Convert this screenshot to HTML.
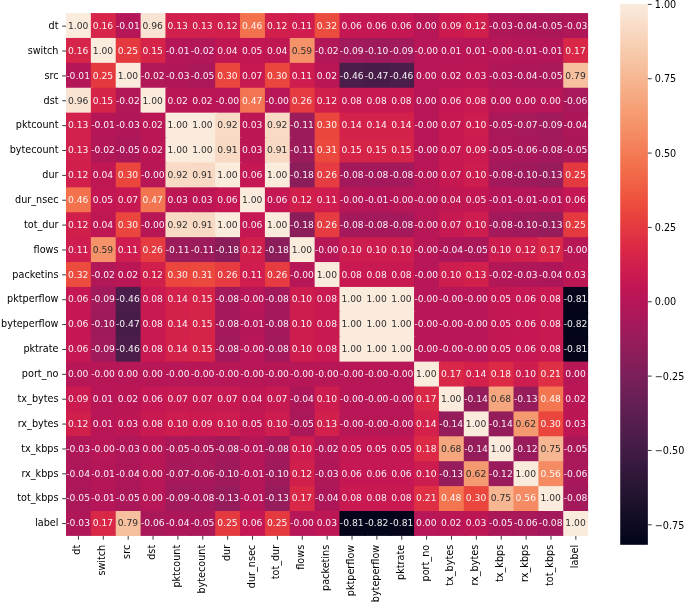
<!DOCTYPE html>
<html lang="en">
<head>
<meta charset="utf-8">
<title>Correlation heatmap</title>
<style>
html,body{margin:0;padding:0;background:#ffffff;overflow:hidden;}
svg{display:block;filter:blur(0.3px);}
text{font-family:"DejaVu Sans","Liberation Sans",sans-serif;font-size:9.9px;}
.a{font-size:9.4px;}
.a{text-anchor:middle;}
.w{fill:#ffffff;fill-opacity:0.93;}
.d{fill:#2f2f2f;}
.yl{text-anchor:end;fill:#000;}
.xl{text-anchor:end;fill:#000;}
.cl{text-anchor:start;fill:#000;}
.tk{stroke:#000;stroke-width:0.8;fill:none;}
</style>
</head>
<body>
<svg width="685" height="603" viewBox="0 0 685 603">
<rect x="0" y="0" width="685" height="603" fill="#ffffff"/>
<defs><linearGradient id="cb" x1="0" y1="1" x2="0" y2="0">
<stop offset="0.00195" stop-color="#03051a"/><stop offset="0.00586" stop-color="#04051a"/><stop offset="0.00977" stop-color="#05061b"/><stop offset="0.01367" stop-color="#06071c"/><stop offset="0.01758" stop-color="#07071d"/><stop offset="0.02148" stop-color="#08081e"/><stop offset="0.02539" stop-color="#0a091f"/><stop offset="0.02930" stop-color="#0b0920"/><stop offset="0.03320" stop-color="#0d0a21"/><stop offset="0.03711" stop-color="#0e0b22"/><stop offset="0.04102" stop-color="#100b23"/><stop offset="0.04492" stop-color="#110c24"/><stop offset="0.04883" stop-color="#130d25"/><stop offset="0.05273" stop-color="#140e26"/><stop offset="0.05664" stop-color="#160e27"/><stop offset="0.06055" stop-color="#170f28"/><stop offset="0.06445" stop-color="#180f29"/><stop offset="0.06836" stop-color="#1a102a"/><stop offset="0.07227" stop-color="#1b112b"/><stop offset="0.07617" stop-color="#1d112c"/><stop offset="0.08008" stop-color="#1e122d"/><stop offset="0.08398" stop-color="#20122e"/><stop offset="0.08789" stop-color="#211330"/><stop offset="0.09180" stop-color="#221331"/><stop offset="0.09570" stop-color="#241432"/><stop offset="0.09961" stop-color="#251433"/><stop offset="0.10352" stop-color="#271534"/><stop offset="0.10742" stop-color="#281535"/><stop offset="0.11133" stop-color="#2a1636"/><stop offset="0.11523" stop-color="#2b1637"/><stop offset="0.11914" stop-color="#2d1738"/><stop offset="0.12305" stop-color="#2e1739"/><stop offset="0.12695" stop-color="#30173a"/><stop offset="0.13086" stop-color="#31183b"/><stop offset="0.13477" stop-color="#33183c"/><stop offset="0.13867" stop-color="#34193d"/><stop offset="0.14258" stop-color="#35193e"/><stop offset="0.14648" stop-color="#37193f"/><stop offset="0.15039" stop-color="#381a40"/><stop offset="0.15430" stop-color="#3a1a41"/><stop offset="0.15820" stop-color="#3c1a42"/><stop offset="0.16211" stop-color="#3d1a42"/><stop offset="0.16602" stop-color="#3f1b43"/><stop offset="0.16992" stop-color="#401b44"/><stop offset="0.17383" stop-color="#421b45"/><stop offset="0.17773" stop-color="#431c46"/><stop offset="0.18164" stop-color="#451c47"/><stop offset="0.18555" stop-color="#461c48"/><stop offset="0.18945" stop-color="#481c48"/><stop offset="0.19336" stop-color="#491d49"/><stop offset="0.19727" stop-color="#4b1d4a"/><stop offset="0.20117" stop-color="#4c1d4b"/><stop offset="0.20508" stop-color="#4e1d4b"/><stop offset="0.20898" stop-color="#501d4c"/><stop offset="0.21289" stop-color="#511e4d"/><stop offset="0.21680" stop-color="#531e4d"/><stop offset="0.22070" stop-color="#541e4e"/><stop offset="0.22461" stop-color="#561e4f"/><stop offset="0.22852" stop-color="#581e4f"/><stop offset="0.23242" stop-color="#591e50"/><stop offset="0.23633" stop-color="#5b1e51"/><stop offset="0.24023" stop-color="#5c1e51"/><stop offset="0.24414" stop-color="#5e1f52"/><stop offset="0.24805" stop-color="#601f52"/><stop offset="0.25195" stop-color="#611f53"/><stop offset="0.25586" stop-color="#631f53"/><stop offset="0.25977" stop-color="#641f54"/><stop offset="0.26367" stop-color="#661f54"/><stop offset="0.26758" stop-color="#681f55"/><stop offset="0.27148" stop-color="#691f55"/><stop offset="0.27539" stop-color="#6b1f56"/><stop offset="0.27930" stop-color="#6d1f56"/><stop offset="0.28320" stop-color="#6e1f57"/><stop offset="0.28711" stop-color="#701f57"/><stop offset="0.29102" stop-color="#711f57"/><stop offset="0.29492" stop-color="#731f58"/><stop offset="0.29883" stop-color="#751f58"/><stop offset="0.30273" stop-color="#761f58"/><stop offset="0.30664" stop-color="#781f59"/><stop offset="0.31055" stop-color="#7a1f59"/><stop offset="0.31445" stop-color="#7b1f59"/><stop offset="0.31836" stop-color="#7d1f5a"/><stop offset="0.32227" stop-color="#7f1e5a"/><stop offset="0.32617" stop-color="#811e5a"/><stop offset="0.33008" stop-color="#821e5a"/><stop offset="0.33398" stop-color="#841e5a"/><stop offset="0.33789" stop-color="#861e5b"/><stop offset="0.34180" stop-color="#871e5b"/><stop offset="0.34570" stop-color="#891e5b"/><stop offset="0.34961" stop-color="#8b1d5b"/><stop offset="0.35352" stop-color="#8c1d5b"/><stop offset="0.35742" stop-color="#8e1d5b"/><stop offset="0.36133" stop-color="#901d5b"/><stop offset="0.36523" stop-color="#921c5b"/><stop offset="0.36914" stop-color="#931c5b"/><stop offset="0.37305" stop-color="#951c5b"/><stop offset="0.37695" stop-color="#971c5b"/><stop offset="0.38086" stop-color="#981b5b"/><stop offset="0.38477" stop-color="#9a1b5b"/><stop offset="0.38867" stop-color="#9c1b5b"/><stop offset="0.39258" stop-color="#9e1a5b"/><stop offset="0.39648" stop-color="#9f1a5b"/><stop offset="0.40039" stop-color="#a11a5b"/><stop offset="0.40430" stop-color="#a3195b"/><stop offset="0.40820" stop-color="#a4195b"/><stop offset="0.41211" stop-color="#a6195a"/><stop offset="0.41602" stop-color="#a8185a"/><stop offset="0.41992" stop-color="#aa185a"/><stop offset="0.42383" stop-color="#ab185a"/><stop offset="0.42773" stop-color="#ad1759"/><stop offset="0.43164" stop-color="#af1759"/><stop offset="0.43555" stop-color="#b01759"/><stop offset="0.43945" stop-color="#b21758"/><stop offset="0.44336" stop-color="#b41658"/><stop offset="0.44727" stop-color="#b51657"/><stop offset="0.45117" stop-color="#b71657"/><stop offset="0.45508" stop-color="#b91657"/><stop offset="0.45898" stop-color="#ba1656"/><stop offset="0.46289" stop-color="#bc1656"/><stop offset="0.46680" stop-color="#bd1655"/><stop offset="0.47070" stop-color="#bf1654"/><stop offset="0.47461" stop-color="#c11754"/><stop offset="0.47852" stop-color="#c21753"/><stop offset="0.48242" stop-color="#c41753"/><stop offset="0.48633" stop-color="#c51852"/><stop offset="0.49023" stop-color="#c71951"/><stop offset="0.49414" stop-color="#c81951"/><stop offset="0.49805" stop-color="#ca1a50"/><stop offset="0.50195" stop-color="#cb1b4f"/><stop offset="0.50586" stop-color="#cd1c4e"/><stop offset="0.50977" stop-color="#ce1d4e"/><stop offset="0.51367" stop-color="#cf1e4d"/><stop offset="0.51758" stop-color="#d11f4c"/><stop offset="0.52148" stop-color="#d2204c"/><stop offset="0.52539" stop-color="#d3214b"/><stop offset="0.52930" stop-color="#d5224a"/><stop offset="0.53320" stop-color="#d62449"/><stop offset="0.53711" stop-color="#d72549"/><stop offset="0.54102" stop-color="#d82748"/><stop offset="0.54492" stop-color="#d92847"/><stop offset="0.54883" stop-color="#db2946"/><stop offset="0.55273" stop-color="#dc2b46"/><stop offset="0.55664" stop-color="#dd2c45"/><stop offset="0.56055" stop-color="#de2e44"/><stop offset="0.56445" stop-color="#df2f44"/><stop offset="0.56836" stop-color="#e03143"/><stop offset="0.57227" stop-color="#e13342"/><stop offset="0.57617" stop-color="#e23442"/><stop offset="0.58008" stop-color="#e33641"/><stop offset="0.58398" stop-color="#e43841"/><stop offset="0.58789" stop-color="#e53940"/><stop offset="0.59180" stop-color="#e63b40"/><stop offset="0.59570" stop-color="#e73d3f"/><stop offset="0.59961" stop-color="#e83f3f"/><stop offset="0.60352" stop-color="#e8403e"/><stop offset="0.60742" stop-color="#e9423e"/><stop offset="0.61133" stop-color="#ea443e"/><stop offset="0.61523" stop-color="#eb463e"/><stop offset="0.61914" stop-color="#eb483e"/><stop offset="0.62305" stop-color="#ec4a3e"/><stop offset="0.62695" stop-color="#ec4c3e"/><stop offset="0.63086" stop-color="#ed4e3e"/><stop offset="0.63477" stop-color="#ed503e"/><stop offset="0.63867" stop-color="#ee523f"/><stop offset="0.64258" stop-color="#ee543f"/><stop offset="0.64648" stop-color="#ef5640"/><stop offset="0.65039" stop-color="#ef5840"/><stop offset="0.65430" stop-color="#ef5a41"/><stop offset="0.65820" stop-color="#f05c42"/><stop offset="0.66211" stop-color="#f05e42"/><stop offset="0.66602" stop-color="#f06043"/><stop offset="0.66992" stop-color="#f16244"/><stop offset="0.67383" stop-color="#f16445"/><stop offset="0.67773" stop-color="#f16646"/><stop offset="0.68164" stop-color="#f26747"/><stop offset="0.68555" stop-color="#f26948"/><stop offset="0.68945" stop-color="#f26b49"/><stop offset="0.69336" stop-color="#f26d4b"/><stop offset="0.69727" stop-color="#f26f4c"/><stop offset="0.70117" stop-color="#f3714d"/><stop offset="0.70508" stop-color="#f3734e"/><stop offset="0.70898" stop-color="#f37450"/><stop offset="0.71289" stop-color="#f37651"/><stop offset="0.71680" stop-color="#f37852"/><stop offset="0.72070" stop-color="#f47a54"/><stop offset="0.72461" stop-color="#f47c55"/><stop offset="0.72852" stop-color="#f47d57"/><stop offset="0.73242" stop-color="#f47f58"/><stop offset="0.73633" stop-color="#f4815a"/><stop offset="0.74023" stop-color="#f4835b"/><stop offset="0.74414" stop-color="#f4845d"/><stop offset="0.74805" stop-color="#f4865e"/><stop offset="0.75195" stop-color="#f58860"/><stop offset="0.75586" stop-color="#f58a61"/><stop offset="0.75977" stop-color="#f58b63"/><stop offset="0.76367" stop-color="#f58d64"/><stop offset="0.76758" stop-color="#f58f66"/><stop offset="0.77148" stop-color="#f59067"/><stop offset="0.77539" stop-color="#f59269"/><stop offset="0.77930" stop-color="#f5946b"/><stop offset="0.78320" stop-color="#f5966c"/><stop offset="0.78711" stop-color="#f5976e"/><stop offset="0.79102" stop-color="#f59970"/><stop offset="0.79492" stop-color="#f69b71"/><stop offset="0.79883" stop-color="#f69c73"/><stop offset="0.80273" stop-color="#f69e75"/><stop offset="0.80664" stop-color="#f6a077"/><stop offset="0.81055" stop-color="#f6a178"/><stop offset="0.81445" stop-color="#f6a37a"/><stop offset="0.81836" stop-color="#f6a47c"/><stop offset="0.82227" stop-color="#f6a67e"/><stop offset="0.82617" stop-color="#f6a880"/><stop offset="0.83008" stop-color="#f6a981"/><stop offset="0.83398" stop-color="#f6ab83"/><stop offset="0.83789" stop-color="#f6ad85"/><stop offset="0.84180" stop-color="#f6ae87"/><stop offset="0.84570" stop-color="#f6b089"/><stop offset="0.84961" stop-color="#f6b18b"/><stop offset="0.85352" stop-color="#f6b38d"/><stop offset="0.85742" stop-color="#f6b48f"/><stop offset="0.86133" stop-color="#f6b691"/><stop offset="0.86523" stop-color="#f6b893"/><stop offset="0.86914" stop-color="#f6b995"/><stop offset="0.87305" stop-color="#f6bb97"/><stop offset="0.87695" stop-color="#f6bc99"/><stop offset="0.88086" stop-color="#f6be9b"/><stop offset="0.88477" stop-color="#f6bf9d"/><stop offset="0.88867" stop-color="#f6c19f"/><stop offset="0.89258" stop-color="#f7c2a2"/><stop offset="0.89648" stop-color="#f7c4a4"/><stop offset="0.90039" stop-color="#f7c6a6"/><stop offset="0.90430" stop-color="#f7c7a8"/><stop offset="0.90820" stop-color="#f7c9aa"/><stop offset="0.91211" stop-color="#f7caac"/><stop offset="0.91602" stop-color="#f7ccaf"/><stop offset="0.91992" stop-color="#f7cdb1"/><stop offset="0.92383" stop-color="#f7cfb3"/><stop offset="0.92773" stop-color="#f7d0b5"/><stop offset="0.93164" stop-color="#f8d1b8"/><stop offset="0.93555" stop-color="#f8d3ba"/><stop offset="0.93945" stop-color="#f8d4bc"/><stop offset="0.94336" stop-color="#f8d6be"/><stop offset="0.94727" stop-color="#f8d7c0"/><stop offset="0.95117" stop-color="#f8d9c3"/><stop offset="0.95508" stop-color="#f8dac5"/><stop offset="0.95898" stop-color="#f8dcc7"/><stop offset="0.96289" stop-color="#f9ddc9"/><stop offset="0.96680" stop-color="#f9dfcb"/><stop offset="0.97070" stop-color="#f9e0cd"/><stop offset="0.97461" stop-color="#f9e2d0"/><stop offset="0.97852" stop-color="#f9e3d2"/><stop offset="0.98242" stop-color="#f9e5d4"/><stop offset="0.98633" stop-color="#fae6d6"/><stop offset="0.99023" stop-color="#fae8d8"/><stop offset="0.99414" stop-color="#fae9da"/><stop offset="0.99805" stop-color="#faebdd"/>
</linearGradient></defs>
<g transform="translate(-39.300,-80.266) scale(0.975)">
<g>
<rect x="108" y="95.73" width="27.1" height="27.14" fill="#faebdd"/><rect x="133.5" y="95.73" width="27.1" height="27.14" fill="#d72549"/><rect x="159" y="95.73" width="27.1" height="27.14" fill="#b41658"/><rect x="184.5" y="95.73" width="27.1" height="27.14" fill="#f9e3d2"/><rect x="210" y="95.73" width="52.6" height="27.14" fill="#d2204c"/><rect x="261" y="95.73" width="27.1" height="27.14" fill="#d11f4c"/><rect x="286.5" y="95.73" width="27.1" height="27.14" fill="#f3714d"/><rect x="312" y="95.73" width="27.1" height="27.14" fill="#d11f4c"/><rect x="337.49" y="95.73" width="27.1" height="27.14" fill="#ce1d4e"/><rect x="362.99" y="95.73" width="27.1" height="27.14" fill="#ec4c3e"/><rect x="388.49" y="95.73" width="78.1" height="27.14" fill="#c41753"/><rect x="464.99" y="95.73" width="27.1" height="27.14" fill="#b71657"/><rect x="490.49" y="95.73" width="27.1" height="27.14" fill="#ca1a50"/><rect x="515.99" y="95.73" width="27.1" height="27.14" fill="#d11f4c"/><rect x="541.49" y="95.73" width="27.1" height="27.14" fill="#af1759"/><rect x="566.99" y="95.73" width="27.1" height="27.14" fill="#ad1759"/><rect x="592.49" y="95.73" width="27.1" height="27.14" fill="#ab185a"/><rect x="617.99" y="95.73" width="25.5" height="27.14" fill="#af1759"/>
<rect x="108" y="121.26" width="27.1" height="27.14" fill="#d72549"/><rect x="133.5" y="121.26" width="27.1" height="27.14" fill="#faebdd"/><rect x="159" y="121.26" width="27.1" height="27.14" fill="#e53940"/><rect x="184.5" y="121.26" width="27.1" height="27.14" fill="#d62449"/><rect x="210" y="121.26" width="27.1" height="27.14" fill="#b41658"/><rect x="235.5" y="121.26" width="27.1" height="27.14" fill="#b21758"/><rect x="261" y="121.26" width="27.1" height="27.14" fill="#bf1654"/><rect x="286.5" y="121.26" width="27.1" height="27.14" fill="#c21753"/><rect x="312" y="121.26" width="27.1" height="27.14" fill="#bf1654"/><rect x="337.49" y="121.26" width="27.1" height="27.14" fill="#f59269"/><rect x="362.99" y="121.26" width="27.1" height="27.14" fill="#b21758"/><rect x="388.49" y="121.26" width="27.1" height="27.14" fill="#a11a5b"/><rect x="413.99" y="121.26" width="27.1" height="27.14" fill="#9f1a5b"/><rect x="439.49" y="121.26" width="27.1" height="27.14" fill="#a11a5b"/><rect x="464.99" y="121.26" width="27.1" height="27.14" fill="#b71657"/><rect x="490.49" y="121.26" width="52.6" height="27.14" fill="#b91657"/><rect x="541.49" y="121.26" width="27.1" height="27.14" fill="#b71657"/><rect x="566.99" y="121.26" width="52.6" height="27.14" fill="#b41658"/><rect x="617.99" y="121.26" width="25.5" height="27.14" fill="#d92847"/>
<rect x="108" y="146.8" width="27.1" height="27.14" fill="#b41658"/><rect x="133.5" y="146.8" width="27.1" height="27.14" fill="#e53940"/><rect x="159" y="146.8" width="27.1" height="27.14" fill="#faebdd"/><rect x="184.5" y="146.8" width="27.1" height="27.14" fill="#b21758"/><rect x="210" y="146.8" width="27.1" height="27.14" fill="#af1759"/><rect x="235.5" y="146.8" width="27.1" height="27.14" fill="#ab185a"/><rect x="261" y="146.8" width="27.1" height="27.14" fill="#eb463e"/><rect x="286.5" y="146.8" width="27.1" height="27.14" fill="#c71951"/><rect x="312" y="146.8" width="27.1" height="27.14" fill="#eb463e"/><rect x="337.49" y="146.8" width="27.1" height="27.14" fill="#ce1d4e"/><rect x="362.99" y="146.8" width="27.1" height="27.14" fill="#ba1656"/><rect x="388.49" y="146.8" width="27.1" height="27.14" fill="#4b1d4a"/><rect x="413.99" y="146.8" width="27.1" height="27.14" fill="#481c48"/><rect x="439.49" y="146.8" width="27.1" height="27.14" fill="#4b1d4a"/><rect x="464.99" y="146.8" width="27.1" height="27.14" fill="#b71657"/><rect x="490.49" y="146.8" width="27.1" height="27.14" fill="#ba1656"/><rect x="515.99" y="146.8" width="27.1" height="27.14" fill="#bd1655"/><rect x="541.49" y="146.8" width="27.1" height="27.14" fill="#af1759"/><rect x="566.99" y="146.8" width="27.1" height="27.14" fill="#ad1759"/><rect x="592.49" y="146.8" width="27.1" height="27.14" fill="#ab185a"/><rect x="617.99" y="146.8" width="25.5" height="27.14" fill="#f6bf9d"/>
<rect x="108" y="172.33" width="27.1" height="27.14" fill="#f9e3d2"/><rect x="133.5" y="172.33" width="27.1" height="27.14" fill="#d62449"/><rect x="159" y="172.33" width="27.1" height="27.14" fill="#b21758"/><rect x="184.5" y="172.33" width="27.1" height="27.14" fill="#faebdd"/><rect x="210" y="172.33" width="52.6" height="27.14" fill="#ba1656"/><rect x="261" y="172.33" width="27.1" height="27.14" fill="#b71657"/><rect x="286.5" y="172.33" width="27.1" height="27.14" fill="#f37450"/><rect x="312" y="172.33" width="27.1" height="27.14" fill="#b71657"/><rect x="337.49" y="172.33" width="27.1" height="27.14" fill="#e63b40"/><rect x="362.99" y="172.33" width="27.1" height="27.14" fill="#d11f4c"/><rect x="388.49" y="172.33" width="78.1" height="27.14" fill="#c81951"/><rect x="464.99" y="172.33" width="27.1" height="27.14" fill="#b71657"/><rect x="490.49" y="172.33" width="27.1" height="27.14" fill="#c41753"/><rect x="515.99" y="172.33" width="27.1" height="27.14" fill="#c81951"/><rect x="541.49" y="172.33" width="78.1" height="27.14" fill="#b71657"/><rect x="617.99" y="172.33" width="25.5" height="27.14" fill="#a8185a"/>
<rect x="108" y="197.87" width="27.1" height="27.14" fill="#d2204c"/><rect x="133.5" y="197.87" width="27.1" height="27.14" fill="#b41658"/><rect x="159" y="197.87" width="27.1" height="27.14" fill="#af1759"/><rect x="184.5" y="197.87" width="27.1" height="27.14" fill="#ba1656"/><rect x="210" y="197.87" width="52.6" height="27.14" fill="#faebdd"/><rect x="261" y="197.87" width="27.1" height="27.14" fill="#f8dac5"/><rect x="286.5" y="197.87" width="27.1" height="27.14" fill="#bd1655"/><rect x="312" y="197.87" width="27.1" height="27.14" fill="#f8dac5"/><rect x="337.49" y="197.87" width="27.1" height="27.14" fill="#9c1b5b"/><rect x="362.99" y="197.87" width="27.1" height="27.14" fill="#eb463e"/><rect x="388.49" y="197.87" width="78.1" height="27.14" fill="#d3214b"/><rect x="464.99" y="197.87" width="27.1" height="27.14" fill="#b71657"/><rect x="490.49" y="197.87" width="27.1" height="27.14" fill="#c71951"/><rect x="515.99" y="197.87" width="27.1" height="27.14" fill="#cd1c4e"/><rect x="541.49" y="197.87" width="27.1" height="27.14" fill="#ab185a"/><rect x="566.99" y="197.87" width="27.1" height="27.14" fill="#a6195a"/><rect x="592.49" y="197.87" width="27.1" height="27.14" fill="#a11a5b"/><rect x="617.99" y="197.87" width="25.5" height="27.14" fill="#ad1759"/>
<rect x="108" y="223.4" width="27.1" height="27.14" fill="#d2204c"/><rect x="133.5" y="223.4" width="27.1" height="27.14" fill="#b21758"/><rect x="159" y="223.4" width="27.1" height="27.14" fill="#ab185a"/><rect x="184.5" y="223.4" width="27.1" height="27.14" fill="#ba1656"/><rect x="210" y="223.4" width="52.6" height="27.14" fill="#faebdd"/><rect x="261" y="223.4" width="27.1" height="27.14" fill="#f8d9c3"/><rect x="286.5" y="223.4" width="27.1" height="27.14" fill="#bd1655"/><rect x="312" y="223.4" width="27.1" height="27.14" fill="#f8d9c3"/><rect x="337.49" y="223.4" width="27.1" height="27.14" fill="#9c1b5b"/><rect x="362.99" y="223.4" width="27.1" height="27.14" fill="#eb483e"/><rect x="388.49" y="223.4" width="78.1" height="27.14" fill="#d62449"/><rect x="464.99" y="223.4" width="27.1" height="27.14" fill="#b71657"/><rect x="490.49" y="223.4" width="27.1" height="27.14" fill="#c71951"/><rect x="515.99" y="223.4" width="27.1" height="27.14" fill="#ca1a50"/><rect x="541.49" y="223.4" width="27.1" height="27.14" fill="#ab185a"/><rect x="566.99" y="223.4" width="27.1" height="27.14" fill="#a8185a"/><rect x="592.49" y="223.4" width="27.1" height="27.14" fill="#a3195b"/><rect x="617.99" y="223.4" width="25.5" height="27.14" fill="#ab185a"/>
<rect x="108" y="248.94" width="27.1" height="27.14" fill="#d11f4c"/><rect x="133.5" y="248.94" width="27.1" height="27.14" fill="#bf1654"/><rect x="159" y="248.94" width="27.1" height="27.14" fill="#eb463e"/><rect x="184.5" y="248.94" width="27.1" height="27.14" fill="#b71657"/><rect x="210" y="248.94" width="27.1" height="27.14" fill="#f8dac5"/><rect x="235.5" y="248.94" width="27.1" height="27.14" fill="#f8d9c3"/><rect x="261" y="248.94" width="27.1" height="27.14" fill="#faebdd"/><rect x="286.5" y="248.94" width="27.1" height="27.14" fill="#c41753"/><rect x="312" y="248.94" width="27.1" height="27.14" fill="#faebdd"/><rect x="337.49" y="248.94" width="27.1" height="27.14" fill="#8b1d5b"/><rect x="362.99" y="248.94" width="27.1" height="27.14" fill="#e63b40"/><rect x="388.49" y="248.94" width="78.1" height="27.14" fill="#a3195b"/><rect x="464.99" y="248.94" width="27.1" height="27.14" fill="#b71657"/><rect x="490.49" y="248.94" width="27.1" height="27.14" fill="#c71951"/><rect x="515.99" y="248.94" width="27.1" height="27.14" fill="#cd1c4e"/><rect x="541.49" y="248.94" width="27.1" height="27.14" fill="#a3195b"/><rect x="566.99" y="248.94" width="27.1" height="27.14" fill="#9f1a5b"/><rect x="592.49" y="248.94" width="27.1" height="27.14" fill="#971c5b"/><rect x="617.99" y="248.94" width="25.5" height="27.14" fill="#e53940"/>
<rect x="108" y="274.47" width="27.1" height="27.14" fill="#f3714d"/><rect x="133.5" y="274.47" width="27.1" height="27.14" fill="#c21753"/><rect x="159" y="274.47" width="27.1" height="27.14" fill="#c71951"/><rect x="184.5" y="274.47" width="27.1" height="27.14" fill="#f37450"/><rect x="210" y="274.47" width="52.6" height="27.14" fill="#bd1655"/><rect x="261" y="274.47" width="27.1" height="27.14" fill="#c41753"/><rect x="286.5" y="274.47" width="27.1" height="27.14" fill="#faebdd"/><rect x="312" y="274.47" width="27.1" height="27.14" fill="#c41753"/><rect x="337.49" y="274.47" width="27.1" height="27.14" fill="#d11f4c"/><rect x="362.99" y="274.47" width="27.1" height="27.14" fill="#ce1d4e"/><rect x="388.49" y="274.47" width="27.1" height="27.14" fill="#b71657"/><rect x="413.99" y="274.47" width="27.1" height="27.14" fill="#b41658"/><rect x="439.49" y="274.47" width="52.6" height="27.14" fill="#b71657"/><rect x="490.49" y="274.47" width="27.1" height="27.14" fill="#bf1654"/><rect x="515.99" y="274.47" width="27.1" height="27.14" fill="#c21753"/><rect x="541.49" y="274.47" width="78.1" height="27.14" fill="#b41658"/><rect x="617.99" y="274.47" width="25.5" height="27.14" fill="#c41753"/>
<rect x="108" y="300.01" width="27.1" height="27.14" fill="#d11f4c"/><rect x="133.5" y="300.01" width="27.1" height="27.14" fill="#bf1654"/><rect x="159" y="300.01" width="27.1" height="27.14" fill="#eb463e"/><rect x="184.5" y="300.01" width="27.1" height="27.14" fill="#b71657"/><rect x="210" y="300.01" width="27.1" height="27.14" fill="#f8dac5"/><rect x="235.5" y="300.01" width="27.1" height="27.14" fill="#f8d9c3"/><rect x="261" y="300.01" width="27.1" height="27.14" fill="#faebdd"/><rect x="286.5" y="300.01" width="27.1" height="27.14" fill="#c41753"/><rect x="312" y="300.01" width="27.1" height="27.14" fill="#faebdd"/><rect x="337.49" y="300.01" width="27.1" height="27.14" fill="#8b1d5b"/><rect x="362.99" y="300.01" width="27.1" height="27.14" fill="#e63b40"/><rect x="388.49" y="300.01" width="78.1" height="27.14" fill="#a3195b"/><rect x="464.99" y="300.01" width="27.1" height="27.14" fill="#b71657"/><rect x="490.49" y="300.01" width="27.1" height="27.14" fill="#c71951"/><rect x="515.99" y="300.01" width="27.1" height="27.14" fill="#cd1c4e"/><rect x="541.49" y="300.01" width="27.1" height="27.14" fill="#a3195b"/><rect x="566.99" y="300.01" width="27.1" height="27.14" fill="#9f1a5b"/><rect x="592.49" y="300.01" width="27.1" height="27.14" fill="#971c5b"/><rect x="617.99" y="300.01" width="25.5" height="27.14" fill="#e53940"/>
<rect x="108" y="325.54" width="27.1" height="27.14" fill="#ce1d4e"/><rect x="133.5" y="325.54" width="27.1" height="27.14" fill="#f59269"/><rect x="159" y="325.54" width="27.1" height="27.14" fill="#ce1d4e"/><rect x="184.5" y="325.54" width="27.1" height="27.14" fill="#e63b40"/><rect x="210" y="325.54" width="52.6" height="27.14" fill="#9c1b5b"/><rect x="261" y="325.54" width="27.1" height="27.14" fill="#8b1d5b"/><rect x="286.5" y="325.54" width="27.1" height="27.14" fill="#d11f4c"/><rect x="312" y="325.54" width="27.1" height="27.14" fill="#8b1d5b"/><rect x="337.49" y="325.54" width="27.1" height="27.14" fill="#faebdd"/><rect x="362.99" y="325.54" width="27.1" height="27.14" fill="#b71657"/><rect x="388.49" y="325.54" width="78.1" height="27.14" fill="#cd1c4e"/><rect x="464.99" y="325.54" width="27.1" height="27.14" fill="#b71657"/><rect x="490.49" y="325.54" width="27.1" height="27.14" fill="#ad1759"/><rect x="515.99" y="325.54" width="27.1" height="27.14" fill="#ab185a"/><rect x="541.49" y="325.54" width="27.1" height="27.14" fill="#cd1c4e"/><rect x="566.99" y="325.54" width="27.1" height="27.14" fill="#d11f4c"/><rect x="592.49" y="325.54" width="27.1" height="27.14" fill="#d92847"/><rect x="617.99" y="325.54" width="25.5" height="27.14" fill="#b71657"/>
<rect x="108" y="351.08" width="27.1" height="27.14" fill="#ec4c3e"/><rect x="133.5" y="351.08" width="27.1" height="27.14" fill="#b21758"/><rect x="159" y="351.08" width="27.1" height="27.14" fill="#ba1656"/><rect x="184.5" y="351.08" width="27.1" height="27.14" fill="#d11f4c"/><rect x="210" y="351.08" width="27.1" height="27.14" fill="#eb463e"/><rect x="235.5" y="351.08" width="27.1" height="27.14" fill="#eb483e"/><rect x="261" y="351.08" width="27.1" height="27.14" fill="#e63b40"/><rect x="286.5" y="351.08" width="27.1" height="27.14" fill="#ce1d4e"/><rect x="312" y="351.08" width="27.1" height="27.14" fill="#e63b40"/><rect x="337.49" y="351.08" width="27.1" height="27.14" fill="#b71657"/><rect x="362.99" y="351.08" width="27.1" height="27.14" fill="#faebdd"/><rect x="388.49" y="351.08" width="78.1" height="27.14" fill="#c81951"/><rect x="464.99" y="351.08" width="27.1" height="27.14" fill="#b71657"/><rect x="490.49" y="351.08" width="27.1" height="27.14" fill="#cd1c4e"/><rect x="515.99" y="351.08" width="27.1" height="27.14" fill="#d2204c"/><rect x="541.49" y="351.08" width="27.1" height="27.14" fill="#b21758"/><rect x="566.99" y="351.08" width="27.1" height="27.14" fill="#af1759"/><rect x="592.49" y="351.08" width="27.1" height="27.14" fill="#ad1759"/><rect x="617.99" y="351.08" width="25.5" height="27.14" fill="#bd1655"/>
<rect x="108" y="376.61" width="27.1" height="27.14" fill="#c41753"/><rect x="133.5" y="376.61" width="27.1" height="27.14" fill="#a11a5b"/><rect x="159" y="376.61" width="27.1" height="27.14" fill="#4b1d4a"/><rect x="184.5" y="376.61" width="27.1" height="27.14" fill="#c81951"/><rect x="210" y="376.61" width="27.1" height="27.14" fill="#d3214b"/><rect x="235.5" y="376.61" width="27.1" height="27.14" fill="#d62449"/><rect x="261" y="376.61" width="27.1" height="27.14" fill="#a3195b"/><rect x="286.5" y="376.61" width="27.1" height="27.14" fill="#b71657"/><rect x="312" y="376.61" width="27.1" height="27.14" fill="#a3195b"/><rect x="337.49" y="376.61" width="27.1" height="27.14" fill="#cd1c4e"/><rect x="362.99" y="376.61" width="27.1" height="27.14" fill="#c81951"/><rect x="388.49" y="376.61" width="78.1" height="27.14" fill="#faebdd"/><rect x="464.99" y="376.61" width="78.1" height="27.14" fill="#b71657"/><rect x="541.49" y="376.61" width="27.1" height="27.14" fill="#c21753"/><rect x="566.99" y="376.61" width="27.1" height="27.14" fill="#c41753"/><rect x="592.49" y="376.61" width="27.1" height="27.14" fill="#c81951"/><rect x="617.99" y="376.61" width="25.5" height="27.14" fill="#04051a"/>
<rect x="108" y="402.15" width="27.1" height="27.14" fill="#c41753"/><rect x="133.5" y="402.15" width="27.1" height="27.14" fill="#9f1a5b"/><rect x="159" y="402.15" width="27.1" height="27.14" fill="#481c48"/><rect x="184.5" y="402.15" width="27.1" height="27.14" fill="#c81951"/><rect x="210" y="402.15" width="27.1" height="27.14" fill="#d3214b"/><rect x="235.5" y="402.15" width="27.1" height="27.14" fill="#d62449"/><rect x="261" y="402.15" width="27.1" height="27.14" fill="#a3195b"/><rect x="286.5" y="402.15" width="27.1" height="27.14" fill="#b41658"/><rect x="312" y="402.15" width="27.1" height="27.14" fill="#a3195b"/><rect x="337.49" y="402.15" width="27.1" height="27.14" fill="#cd1c4e"/><rect x="362.99" y="402.15" width="27.1" height="27.14" fill="#c81951"/><rect x="388.49" y="402.15" width="78.1" height="27.14" fill="#faebdd"/><rect x="464.99" y="402.15" width="78.1" height="27.14" fill="#b71657"/><rect x="541.49" y="402.15" width="27.1" height="27.14" fill="#c21753"/><rect x="566.99" y="402.15" width="27.1" height="27.14" fill="#c41753"/><rect x="592.49" y="402.15" width="27.1" height="27.14" fill="#c81951"/><rect x="617.99" y="402.15" width="25.5" height="27.14" fill="#03051a"/>
<rect x="108" y="427.68" width="27.1" height="27.14" fill="#c41753"/><rect x="133.5" y="427.68" width="27.1" height="27.14" fill="#a11a5b"/><rect x="159" y="427.68" width="27.1" height="27.14" fill="#4b1d4a"/><rect x="184.5" y="427.68" width="27.1" height="27.14" fill="#c81951"/><rect x="210" y="427.68" width="27.1" height="27.14" fill="#d3214b"/><rect x="235.5" y="427.68" width="27.1" height="27.14" fill="#d62449"/><rect x="261" y="427.68" width="27.1" height="27.14" fill="#a3195b"/><rect x="286.5" y="427.68" width="27.1" height="27.14" fill="#b71657"/><rect x="312" y="427.68" width="27.1" height="27.14" fill="#a3195b"/><rect x="337.49" y="427.68" width="27.1" height="27.14" fill="#cd1c4e"/><rect x="362.99" y="427.68" width="27.1" height="27.14" fill="#c81951"/><rect x="388.49" y="427.68" width="78.1" height="27.14" fill="#faebdd"/><rect x="464.99" y="427.68" width="78.1" height="27.14" fill="#b71657"/><rect x="541.49" y="427.68" width="27.1" height="27.14" fill="#c21753"/><rect x="566.99" y="427.68" width="27.1" height="27.14" fill="#c41753"/><rect x="592.49" y="427.68" width="27.1" height="27.14" fill="#c81951"/><rect x="617.99" y="427.68" width="25.5" height="27.14" fill="#04051a"/>
<rect x="108" y="453.22" width="358.59" height="27.14" fill="#b71657"/><rect x="464.99" y="453.22" width="27.1" height="27.14" fill="#faebdd"/><rect x="490.49" y="453.22" width="27.1" height="27.14" fill="#d92847"/><rect x="515.99" y="453.22" width="27.1" height="27.14" fill="#d3214b"/><rect x="541.49" y="453.22" width="27.1" height="27.14" fill="#db2946"/><rect x="566.99" y="453.22" width="27.1" height="27.14" fill="#cd1c4e"/><rect x="592.49" y="453.22" width="27.1" height="27.14" fill="#df2f44"/><rect x="617.99" y="453.22" width="25.5" height="27.14" fill="#b71657"/>
<rect x="108" y="478.75" width="27.1" height="27.14" fill="#ca1a50"/><rect x="133.5" y="478.75" width="27.1" height="27.14" fill="#b91657"/><rect x="159" y="478.75" width="27.1" height="27.14" fill="#ba1656"/><rect x="184.5" y="478.75" width="27.1" height="27.14" fill="#c41753"/><rect x="210" y="478.75" width="78.1" height="27.14" fill="#c71951"/><rect x="286.5" y="478.75" width="27.1" height="27.14" fill="#bf1654"/><rect x="312" y="478.75" width="27.1" height="27.14" fill="#c71951"/><rect x="337.49" y="478.75" width="27.1" height="27.14" fill="#ad1759"/><rect x="362.99" y="478.75" width="27.1" height="27.14" fill="#cd1c4e"/><rect x="388.49" y="478.75" width="78.1" height="27.14" fill="#b71657"/><rect x="464.99" y="478.75" width="27.1" height="27.14" fill="#d92847"/><rect x="490.49" y="478.75" width="27.1" height="27.14" fill="#faebdd"/><rect x="515.99" y="478.75" width="27.1" height="27.14" fill="#951c5b"/><rect x="541.49" y="478.75" width="27.1" height="27.14" fill="#f6a67e"/><rect x="566.99" y="478.75" width="27.1" height="27.14" fill="#971c5b"/><rect x="592.49" y="478.75" width="27.1" height="27.14" fill="#f37651"/><rect x="617.99" y="478.75" width="25.5" height="27.14" fill="#ba1656"/>
<rect x="108" y="504.29" width="27.1" height="27.14" fill="#d11f4c"/><rect x="133.5" y="504.29" width="27.1" height="27.14" fill="#b91657"/><rect x="159" y="504.29" width="27.1" height="27.14" fill="#bd1655"/><rect x="184.5" y="504.29" width="27.1" height="27.14" fill="#c81951"/><rect x="210" y="504.29" width="27.1" height="27.14" fill="#cd1c4e"/><rect x="235.5" y="504.29" width="27.1" height="27.14" fill="#ca1a50"/><rect x="261" y="504.29" width="27.1" height="27.14" fill="#cd1c4e"/><rect x="286.5" y="504.29" width="27.1" height="27.14" fill="#c21753"/><rect x="312" y="504.29" width="27.1" height="27.14" fill="#cd1c4e"/><rect x="337.49" y="504.29" width="27.1" height="27.14" fill="#ab185a"/><rect x="362.99" y="504.29" width="27.1" height="27.14" fill="#d2204c"/><rect x="388.49" y="504.29" width="78.1" height="27.14" fill="#b71657"/><rect x="464.99" y="504.29" width="27.1" height="27.14" fill="#d3214b"/><rect x="490.49" y="504.29" width="27.1" height="27.14" fill="#951c5b"/><rect x="515.99" y="504.29" width="27.1" height="27.14" fill="#faebdd"/><rect x="541.49" y="504.29" width="27.1" height="27.14" fill="#951c5b"/><rect x="566.99" y="504.29" width="27.1" height="27.14" fill="#f59970"/><rect x="592.49" y="504.29" width="27.1" height="27.14" fill="#eb463e"/><rect x="617.99" y="504.29" width="25.5" height="27.14" fill="#bd1655"/>
<rect x="108" y="529.82" width="27.1" height="27.14" fill="#af1759"/><rect x="133.5" y="529.82" width="27.1" height="27.14" fill="#b71657"/><rect x="159" y="529.82" width="27.1" height="27.14" fill="#af1759"/><rect x="184.5" y="529.82" width="27.1" height="27.14" fill="#b71657"/><rect x="210" y="529.82" width="52.6" height="27.14" fill="#ab185a"/><rect x="261" y="529.82" width="27.1" height="27.14" fill="#a3195b"/><rect x="286.5" y="529.82" width="27.1" height="27.14" fill="#b41658"/><rect x="312" y="529.82" width="27.1" height="27.14" fill="#a3195b"/><rect x="337.49" y="529.82" width="27.1" height="27.14" fill="#cd1c4e"/><rect x="362.99" y="529.82" width="27.1" height="27.14" fill="#b21758"/><rect x="388.49" y="529.82" width="78.1" height="27.14" fill="#c21753"/><rect x="464.99" y="529.82" width="27.1" height="27.14" fill="#db2946"/><rect x="490.49" y="529.82" width="27.1" height="27.14" fill="#f6a67e"/><rect x="515.99" y="529.82" width="27.1" height="27.14" fill="#951c5b"/><rect x="541.49" y="529.82" width="27.1" height="27.14" fill="#faebdd"/><rect x="566.99" y="529.82" width="27.1" height="27.14" fill="#9a1b5b"/><rect x="592.49" y="529.82" width="27.1" height="27.14" fill="#f6b691"/><rect x="617.99" y="529.82" width="25.5" height="27.14" fill="#ab185a"/>
<rect x="108" y="555.36" width="27.1" height="27.14" fill="#ad1759"/><rect x="133.5" y="555.36" width="27.1" height="27.14" fill="#b41658"/><rect x="159" y="555.36" width="27.1" height="27.14" fill="#ad1759"/><rect x="184.5" y="555.36" width="27.1" height="27.14" fill="#b71657"/><rect x="210" y="555.36" width="27.1" height="27.14" fill="#a6195a"/><rect x="235.5" y="555.36" width="27.1" height="27.14" fill="#a8185a"/><rect x="261" y="555.36" width="27.1" height="27.14" fill="#9f1a5b"/><rect x="286.5" y="555.36" width="27.1" height="27.14" fill="#b41658"/><rect x="312" y="555.36" width="27.1" height="27.14" fill="#9f1a5b"/><rect x="337.49" y="555.36" width="27.1" height="27.14" fill="#d11f4c"/><rect x="362.99" y="555.36" width="27.1" height="27.14" fill="#af1759"/><rect x="388.49" y="555.36" width="78.1" height="27.14" fill="#c41753"/><rect x="464.99" y="555.36" width="27.1" height="27.14" fill="#cd1c4e"/><rect x="490.49" y="555.36" width="27.1" height="27.14" fill="#971c5b"/><rect x="515.99" y="555.36" width="27.1" height="27.14" fill="#f59970"/><rect x="541.49" y="555.36" width="27.1" height="27.14" fill="#9a1b5b"/><rect x="566.99" y="555.36" width="27.1" height="27.14" fill="#faebdd"/><rect x="592.49" y="555.36" width="27.1" height="27.14" fill="#f58b63"/><rect x="617.99" y="555.36" width="25.5" height="27.14" fill="#a8185a"/>
<rect x="108" y="580.9" width="27.1" height="27.14" fill="#ab185a"/><rect x="133.5" y="580.9" width="27.1" height="27.14" fill="#b41658"/><rect x="159" y="580.9" width="27.1" height="27.14" fill="#ab185a"/><rect x="184.5" y="580.9" width="27.1" height="27.14" fill="#b71657"/><rect x="210" y="580.9" width="27.1" height="27.14" fill="#a11a5b"/><rect x="235.5" y="580.9" width="27.1" height="27.14" fill="#a3195b"/><rect x="261" y="580.9" width="27.1" height="27.14" fill="#971c5b"/><rect x="286.5" y="580.9" width="27.1" height="27.14" fill="#b41658"/><rect x="312" y="580.9" width="27.1" height="27.14" fill="#971c5b"/><rect x="337.49" y="580.9" width="27.1" height="27.14" fill="#d92847"/><rect x="362.99" y="580.9" width="27.1" height="27.14" fill="#ad1759"/><rect x="388.49" y="580.9" width="78.1" height="27.14" fill="#c81951"/><rect x="464.99" y="580.9" width="27.1" height="27.14" fill="#df2f44"/><rect x="490.49" y="580.9" width="27.1" height="27.14" fill="#f37651"/><rect x="515.99" y="580.9" width="27.1" height="27.14" fill="#eb463e"/><rect x="541.49" y="580.9" width="27.1" height="27.14" fill="#f6b691"/><rect x="566.99" y="580.9" width="27.1" height="27.14" fill="#f58b63"/><rect x="592.49" y="580.9" width="27.1" height="27.14" fill="#faebdd"/><rect x="617.99" y="580.9" width="25.5" height="27.14" fill="#a3195b"/>
<rect x="108" y="606.43" width="27.1" height="25.54" fill="#af1759"/><rect x="133.5" y="606.43" width="27.1" height="25.54" fill="#d92847"/><rect x="159" y="606.43" width="27.1" height="25.54" fill="#f6bf9d"/><rect x="184.5" y="606.43" width="27.1" height="25.54" fill="#a8185a"/><rect x="210" y="606.43" width="27.1" height="25.54" fill="#ad1759"/><rect x="235.5" y="606.43" width="27.1" height="25.54" fill="#ab185a"/><rect x="261" y="606.43" width="27.1" height="25.54" fill="#e53940"/><rect x="286.5" y="606.43" width="27.1" height="25.54" fill="#c41753"/><rect x="312" y="606.43" width="27.1" height="25.54" fill="#e53940"/><rect x="337.49" y="606.43" width="27.1" height="25.54" fill="#b71657"/><rect x="362.99" y="606.43" width="27.1" height="25.54" fill="#bd1655"/><rect x="388.49" y="606.43" width="27.1" height="25.54" fill="#04051a"/><rect x="413.99" y="606.43" width="27.1" height="25.54" fill="#03051a"/><rect x="439.49" y="606.43" width="27.1" height="25.54" fill="#04051a"/><rect x="464.99" y="606.43" width="27.1" height="25.54" fill="#b71657"/><rect x="490.49" y="606.43" width="27.1" height="25.54" fill="#ba1656"/><rect x="515.99" y="606.43" width="27.1" height="25.54" fill="#bd1655"/><rect x="541.49" y="606.43" width="27.1" height="25.54" fill="#ab185a"/><rect x="566.99" y="606.43" width="27.1" height="25.54" fill="#a8185a"/><rect x="592.49" y="606.43" width="27.1" height="25.54" fill="#a3195b"/><rect x="617.99" y="606.43" width="25.5" height="25.54" fill="#faebdd"/>
</g>
<g><text class="a d" x="120.45" y="111.99">1.00</text><text class="a w" x="145.96" y="111.99">0.16</text><text class="a w" x="171.46" y="111.99">-0.01</text><text class="a d" x="196.97" y="111.99">0.96</text><text class="a w" x="222.48" y="111.99">0.13</text><text class="a w" x="247.99" y="111.99">0.13</text><text class="a w" x="273.5" y="111.99">0.12</text><text class="a w" x="299.01" y="111.99">0.46</text><text class="a w" x="324.52" y="111.99">0.12</text><text class="a w" x="350.02" y="111.99">0.11</text><text class="a w" x="375.53" y="111.99">0.32</text><text class="a w" x="401.04" y="111.99">0.06</text><text class="a w" x="426.55" y="111.99">0.06</text><text class="a w" x="452.06" y="111.99">0.06</text><text class="a w" x="477.57" y="111.99">0.00</text><text class="a w" x="503.08" y="111.99">0.09</text><text class="a w" x="528.58" y="111.99">0.12</text><text class="a w" x="554.09" y="111.99">-0.03</text><text class="a w" x="579.6" y="111.99">-0.04</text><text class="a w" x="605.11" y="111.99">-0.05</text><text class="a w" x="630.62" y="111.99">-0.03</text></g>
<g><text class="a w" x="120.45" y="137.5">0.16</text><text class="a d" x="145.96" y="137.5">1.00</text><text class="a w" x="171.46" y="137.5">0.25</text><text class="a w" x="196.97" y="137.5">0.15</text><text class="a w" x="222.48" y="137.5">-0.01</text><text class="a w" x="247.99" y="137.5">-0.02</text><text class="a w" x="273.5" y="137.5">0.04</text><text class="a w" x="299.01" y="137.5">0.05</text><text class="a w" x="324.52" y="137.5">0.04</text><text class="a d" x="350.02" y="137.5">0.59</text><text class="a w" x="375.53" y="137.5">-0.02</text><text class="a w" x="401.04" y="137.5">-0.09</text><text class="a w" x="426.55" y="137.5">-0.10</text><text class="a w" x="452.06" y="137.5">-0.09</text><text class="a w" x="477.57" y="137.5">-0.00</text><text class="a w" x="503.08" y="137.5">0.01</text><text class="a w" x="528.58" y="137.5">0.01</text><text class="a w" x="554.09" y="137.5">-0.00</text><text class="a w" x="579.6" y="137.5">-0.01</text><text class="a w" x="605.11" y="137.5">-0.01</text><text class="a w" x="630.62" y="137.5">0.17</text></g>
<g><text class="a w" x="120.45" y="163.01">-0.01</text><text class="a w" x="145.96" y="163.01">0.25</text><text class="a d" x="171.46" y="163.01">1.00</text><text class="a w" x="196.97" y="163.01">-0.02</text><text class="a w" x="222.48" y="163.01">-0.03</text><text class="a w" x="247.99" y="163.01">-0.05</text><text class="a w" x="273.5" y="163.01">0.30</text><text class="a w" x="299.01" y="163.01">0.07</text><text class="a w" x="324.52" y="163.01">0.30</text><text class="a w" x="350.02" y="163.01">0.11</text><text class="a w" x="375.53" y="163.01">0.02</text><text class="a w" x="401.04" y="163.01">-0.46</text><text class="a w" x="426.55" y="163.01">-0.47</text><text class="a w" x="452.06" y="163.01">-0.46</text><text class="a w" x="477.57" y="163.01">0.00</text><text class="a w" x="503.08" y="163.01">0.02</text><text class="a w" x="528.58" y="163.01">0.03</text><text class="a w" x="554.09" y="163.01">-0.03</text><text class="a w" x="579.6" y="163.01">-0.04</text><text class="a w" x="605.11" y="163.01">-0.05</text><text class="a d" x="630.62" y="163.01">0.79</text></g>
<g><text class="a d" x="120.45" y="188.52">0.96</text><text class="a w" x="145.96" y="188.52">0.15</text><text class="a w" x="171.46" y="188.52">-0.02</text><text class="a d" x="196.97" y="188.52">1.00</text><text class="a w" x="222.48" y="188.52">0.02</text><text class="a w" x="247.99" y="188.52">0.02</text><text class="a w" x="273.5" y="188.52">-0.00</text><text class="a w" x="299.01" y="188.52">0.47</text><text class="a w" x="324.52" y="188.52">-0.00</text><text class="a w" x="350.02" y="188.52">0.26</text><text class="a w" x="375.53" y="188.52">0.12</text><text class="a w" x="401.04" y="188.52">0.08</text><text class="a w" x="426.55" y="188.52">0.08</text><text class="a w" x="452.06" y="188.52">0.08</text><text class="a w" x="477.57" y="188.52">0.00</text><text class="a w" x="503.08" y="188.52">0.06</text><text class="a w" x="528.58" y="188.52">0.08</text><text class="a w" x="554.09" y="188.52">0.00</text><text class="a w" x="579.6" y="188.52">0.00</text><text class="a w" x="605.11" y="188.52">0.00</text><text class="a w" x="630.62" y="188.52">-0.06</text></g>
<g><text class="a w" x="120.45" y="214.03">0.13</text><text class="a w" x="145.96" y="214.03">-0.01</text><text class="a w" x="171.46" y="214.03">-0.03</text><text class="a w" x="196.97" y="214.03">0.02</text><text class="a d" x="222.48" y="214.03">1.00</text><text class="a d" x="247.99" y="214.03">1.00</text><text class="a d" x="273.5" y="214.03">0.92</text><text class="a w" x="299.01" y="214.03">0.03</text><text class="a d" x="324.52" y="214.03">0.92</text><text class="a w" x="350.02" y="214.03">-0.11</text><text class="a w" x="375.53" y="214.03">0.30</text><text class="a w" x="401.04" y="214.03">0.14</text><text class="a w" x="426.55" y="214.03">0.14</text><text class="a w" x="452.06" y="214.03">0.14</text><text class="a w" x="477.57" y="214.03">-0.00</text><text class="a w" x="503.08" y="214.03">0.07</text><text class="a w" x="528.58" y="214.03">0.10</text><text class="a w" x="554.09" y="214.03">-0.05</text><text class="a w" x="579.6" y="214.03">-0.07</text><text class="a w" x="605.11" y="214.03">-0.09</text><text class="a w" x="630.62" y="214.03">-0.04</text></g>
<g><text class="a w" x="120.45" y="239.54">0.13</text><text class="a w" x="145.96" y="239.54">-0.02</text><text class="a w" x="171.46" y="239.54">-0.05</text><text class="a w" x="196.97" y="239.54">0.02</text><text class="a d" x="222.48" y="239.54">1.00</text><text class="a d" x="247.99" y="239.54">1.00</text><text class="a d" x="273.5" y="239.54">0.91</text><text class="a w" x="299.01" y="239.54">0.03</text><text class="a d" x="324.52" y="239.54">0.91</text><text class="a w" x="350.02" y="239.54">-0.11</text><text class="a w" x="375.53" y="239.54">0.31</text><text class="a w" x="401.04" y="239.54">0.15</text><text class="a w" x="426.55" y="239.54">0.15</text><text class="a w" x="452.06" y="239.54">0.15</text><text class="a w" x="477.57" y="239.54">-0.00</text><text class="a w" x="503.08" y="239.54">0.07</text><text class="a w" x="528.58" y="239.54">0.09</text><text class="a w" x="554.09" y="239.54">-0.05</text><text class="a w" x="579.6" y="239.54">-0.06</text><text class="a w" x="605.11" y="239.54">-0.08</text><text class="a w" x="630.62" y="239.54">-0.05</text></g>
<g><text class="a w" x="120.45" y="265.04">0.12</text><text class="a w" x="145.96" y="265.04">0.04</text><text class="a w" x="171.46" y="265.04">0.30</text><text class="a w" x="196.97" y="265.04">-0.00</text><text class="a d" x="222.48" y="265.04">0.92</text><text class="a d" x="247.99" y="265.04">0.91</text><text class="a d" x="273.5" y="265.04">1.00</text><text class="a w" x="299.01" y="265.04">0.06</text><text class="a d" x="324.52" y="265.04">1.00</text><text class="a w" x="350.02" y="265.04">-0.18</text><text class="a w" x="375.53" y="265.04">0.26</text><text class="a w" x="401.04" y="265.04">-0.08</text><text class="a w" x="426.55" y="265.04">-0.08</text><text class="a w" x="452.06" y="265.04">-0.08</text><text class="a w" x="477.57" y="265.04">-0.00</text><text class="a w" x="503.08" y="265.04">0.07</text><text class="a w" x="528.58" y="265.04">0.10</text><text class="a w" x="554.09" y="265.04">-0.08</text><text class="a w" x="579.6" y="265.04">-0.10</text><text class="a w" x="605.11" y="265.04">-0.13</text><text class="a w" x="630.62" y="265.04">0.25</text></g>
<g><text class="a w" x="120.45" y="290.55">0.46</text><text class="a w" x="145.96" y="290.55">0.05</text><text class="a w" x="171.46" y="290.55">0.07</text><text class="a w" x="196.97" y="290.55">0.47</text><text class="a w" x="222.48" y="290.55">0.03</text><text class="a w" x="247.99" y="290.55">0.03</text><text class="a w" x="273.5" y="290.55">0.06</text><text class="a d" x="299.01" y="290.55">1.00</text><text class="a w" x="324.52" y="290.55">0.06</text><text class="a w" x="350.02" y="290.55">0.12</text><text class="a w" x="375.53" y="290.55">0.11</text><text class="a w" x="401.04" y="290.55">-0.00</text><text class="a w" x="426.55" y="290.55">-0.01</text><text class="a w" x="452.06" y="290.55">-0.00</text><text class="a w" x="477.57" y="290.55">-0.00</text><text class="a w" x="503.08" y="290.55">0.04</text><text class="a w" x="528.58" y="290.55">0.05</text><text class="a w" x="554.09" y="290.55">-0.01</text><text class="a w" x="579.6" y="290.55">-0.01</text><text class="a w" x="605.11" y="290.55">-0.01</text><text class="a w" x="630.62" y="290.55">0.06</text></g>
<g><text class="a w" x="120.45" y="316.06">0.12</text><text class="a w" x="145.96" y="316.06">0.04</text><text class="a w" x="171.46" y="316.06">0.30</text><text class="a w" x="196.97" y="316.06">-0.00</text><text class="a d" x="222.48" y="316.06">0.92</text><text class="a d" x="247.99" y="316.06">0.91</text><text class="a d" x="273.5" y="316.06">1.00</text><text class="a w" x="299.01" y="316.06">0.06</text><text class="a d" x="324.52" y="316.06">1.00</text><text class="a w" x="350.02" y="316.06">-0.18</text><text class="a w" x="375.53" y="316.06">0.26</text><text class="a w" x="401.04" y="316.06">-0.08</text><text class="a w" x="426.55" y="316.06">-0.08</text><text class="a w" x="452.06" y="316.06">-0.08</text><text class="a w" x="477.57" y="316.06">-0.00</text><text class="a w" x="503.08" y="316.06">0.07</text><text class="a w" x="528.58" y="316.06">0.10</text><text class="a w" x="554.09" y="316.06">-0.08</text><text class="a w" x="579.6" y="316.06">-0.10</text><text class="a w" x="605.11" y="316.06">-0.13</text><text class="a w" x="630.62" y="316.06">0.25</text></g>
<g><text class="a w" x="120.45" y="341.57">0.11</text><text class="a d" x="145.96" y="341.57">0.59</text><text class="a w" x="171.46" y="341.57">0.11</text><text class="a w" x="196.97" y="341.57">0.26</text><text class="a w" x="222.48" y="341.57">-0.11</text><text class="a w" x="247.99" y="341.57">-0.11</text><text class="a w" x="273.5" y="341.57">-0.18</text><text class="a w" x="299.01" y="341.57">0.12</text><text class="a w" x="324.52" y="341.57">-0.18</text><text class="a d" x="350.02" y="341.57">1.00</text><text class="a w" x="375.53" y="341.57">-0.00</text><text class="a w" x="401.04" y="341.57">0.10</text><text class="a w" x="426.55" y="341.57">0.10</text><text class="a w" x="452.06" y="341.57">0.10</text><text class="a w" x="477.57" y="341.57">-0.00</text><text class="a w" x="503.08" y="341.57">-0.04</text><text class="a w" x="528.58" y="341.57">-0.05</text><text class="a w" x="554.09" y="341.57">0.10</text><text class="a w" x="579.6" y="341.57">0.12</text><text class="a w" x="605.11" y="341.57">0.17</text><text class="a w" x="630.62" y="341.57">-0.00</text></g>
<g><text class="a w" x="120.45" y="367.08">0.32</text><text class="a w" x="145.96" y="367.08">-0.02</text><text class="a w" x="171.46" y="367.08">0.02</text><text class="a w" x="196.97" y="367.08">0.12</text><text class="a w" x="222.48" y="367.08">0.30</text><text class="a w" x="247.99" y="367.08">0.31</text><text class="a w" x="273.5" y="367.08">0.26</text><text class="a w" x="299.01" y="367.08">0.11</text><text class="a w" x="324.52" y="367.08">0.26</text><text class="a w" x="350.02" y="367.08">-0.00</text><text class="a d" x="375.53" y="367.08">1.00</text><text class="a w" x="401.04" y="367.08">0.08</text><text class="a w" x="426.55" y="367.08">0.08</text><text class="a w" x="452.06" y="367.08">0.08</text><text class="a w" x="477.57" y="367.08">-0.00</text><text class="a w" x="503.08" y="367.08">0.10</text><text class="a w" x="528.58" y="367.08">0.13</text><text class="a w" x="554.09" y="367.08">-0.02</text><text class="a w" x="579.6" y="367.08">-0.03</text><text class="a w" x="605.11" y="367.08">-0.04</text><text class="a w" x="630.62" y="367.08">0.03</text></g>
<g><text class="a w" x="120.45" y="392.59">0.06</text><text class="a w" x="145.96" y="392.59">-0.09</text><text class="a w" x="171.46" y="392.59">-0.46</text><text class="a w" x="196.97" y="392.59">0.08</text><text class="a w" x="222.48" y="392.59">0.14</text><text class="a w" x="247.99" y="392.59">0.15</text><text class="a w" x="273.5" y="392.59">-0.08</text><text class="a w" x="299.01" y="392.59">-0.00</text><text class="a w" x="324.52" y="392.59">-0.08</text><text class="a w" x="350.02" y="392.59">0.10</text><text class="a w" x="375.53" y="392.59">0.08</text><text class="a d" x="401.04" y="392.59">1.00</text><text class="a d" x="426.55" y="392.59">1.00</text><text class="a d" x="452.06" y="392.59">1.00</text><text class="a w" x="477.57" y="392.59">-0.00</text><text class="a w" x="503.08" y="392.59">-0.00</text><text class="a w" x="528.58" y="392.59">-0.00</text><text class="a w" x="554.09" y="392.59">0.05</text><text class="a w" x="579.6" y="392.59">0.06</text><text class="a w" x="605.11" y="392.59">0.08</text><text class="a w" x="630.62" y="392.59">-0.81</text></g>
<g><text class="a w" x="120.45" y="418.1">0.06</text><text class="a w" x="145.96" y="418.1">-0.10</text><text class="a w" x="171.46" y="418.1">-0.47</text><text class="a w" x="196.97" y="418.1">0.08</text><text class="a w" x="222.48" y="418.1">0.14</text><text class="a w" x="247.99" y="418.1">0.15</text><text class="a w" x="273.5" y="418.1">-0.08</text><text class="a w" x="299.01" y="418.1">-0.01</text><text class="a w" x="324.52" y="418.1">-0.08</text><text class="a w" x="350.02" y="418.1">0.10</text><text class="a w" x="375.53" y="418.1">0.08</text><text class="a d" x="401.04" y="418.1">1.00</text><text class="a d" x="426.55" y="418.1">1.00</text><text class="a d" x="452.06" y="418.1">1.00</text><text class="a w" x="477.57" y="418.1">-0.00</text><text class="a w" x="503.08" y="418.1">-0.00</text><text class="a w" x="528.58" y="418.1">-0.00</text><text class="a w" x="554.09" y="418.1">0.05</text><text class="a w" x="579.6" y="418.1">0.06</text><text class="a w" x="605.11" y="418.1">0.08</text><text class="a w" x="630.62" y="418.1">-0.82</text></g>
<g><text class="a w" x="120.45" y="443.6">0.06</text><text class="a w" x="145.96" y="443.6">-0.09</text><text class="a w" x="171.46" y="443.6">-0.46</text><text class="a w" x="196.97" y="443.6">0.08</text><text class="a w" x="222.48" y="443.6">0.14</text><text class="a w" x="247.99" y="443.6">0.15</text><text class="a w" x="273.5" y="443.6">-0.08</text><text class="a w" x="299.01" y="443.6">-0.00</text><text class="a w" x="324.52" y="443.6">-0.08</text><text class="a w" x="350.02" y="443.6">0.10</text><text class="a w" x="375.53" y="443.6">0.08</text><text class="a d" x="401.04" y="443.6">1.00</text><text class="a d" x="426.55" y="443.6">1.00</text><text class="a d" x="452.06" y="443.6">1.00</text><text class="a w" x="477.57" y="443.6">-0.00</text><text class="a w" x="503.08" y="443.6">-0.00</text><text class="a w" x="528.58" y="443.6">-0.00</text><text class="a w" x="554.09" y="443.6">0.05</text><text class="a w" x="579.6" y="443.6">0.06</text><text class="a w" x="605.11" y="443.6">0.08</text><text class="a w" x="630.62" y="443.6">-0.81</text></g>
<g><text class="a w" x="120.45" y="469.11">0.00</text><text class="a w" x="145.96" y="469.11">-0.00</text><text class="a w" x="171.46" y="469.11">0.00</text><text class="a w" x="196.97" y="469.11">0.00</text><text class="a w" x="222.48" y="469.11">-0.00</text><text class="a w" x="247.99" y="469.11">-0.00</text><text class="a w" x="273.5" y="469.11">-0.00</text><text class="a w" x="299.01" y="469.11">-0.00</text><text class="a w" x="324.52" y="469.11">-0.00</text><text class="a w" x="350.02" y="469.11">-0.00</text><text class="a w" x="375.53" y="469.11">-0.00</text><text class="a w" x="401.04" y="469.11">-0.00</text><text class="a w" x="426.55" y="469.11">-0.00</text><text class="a w" x="452.06" y="469.11">-0.00</text><text class="a d" x="477.57" y="469.11">1.00</text><text class="a w" x="503.08" y="469.11">0.17</text><text class="a w" x="528.58" y="469.11">0.14</text><text class="a w" x="554.09" y="469.11">0.18</text><text class="a w" x="579.6" y="469.11">0.10</text><text class="a w" x="605.11" y="469.11">0.21</text><text class="a w" x="630.62" y="469.11">0.00</text></g>
<g><text class="a w" x="120.45" y="494.62">0.09</text><text class="a w" x="145.96" y="494.62">0.01</text><text class="a w" x="171.46" y="494.62">0.02</text><text class="a w" x="196.97" y="494.62">0.06</text><text class="a w" x="222.48" y="494.62">0.07</text><text class="a w" x="247.99" y="494.62">0.07</text><text class="a w" x="273.5" y="494.62">0.07</text><text class="a w" x="299.01" y="494.62">0.04</text><text class="a w" x="324.52" y="494.62">0.07</text><text class="a w" x="350.02" y="494.62">-0.04</text><text class="a w" x="375.53" y="494.62">0.10</text><text class="a w" x="401.04" y="494.62">-0.00</text><text class="a w" x="426.55" y="494.62">-0.00</text><text class="a w" x="452.06" y="494.62">-0.00</text><text class="a w" x="477.57" y="494.62">0.17</text><text class="a d" x="503.08" y="494.62">1.00</text><text class="a w" x="528.58" y="494.62">-0.14</text><text class="a d" x="554.09" y="494.62">0.68</text><text class="a w" x="579.6" y="494.62">-0.13</text><text class="a w" x="605.11" y="494.62">0.48</text><text class="a w" x="630.62" y="494.62">0.02</text></g>
<g><text class="a w" x="120.45" y="520.13">0.12</text><text class="a w" x="145.96" y="520.13">0.01</text><text class="a w" x="171.46" y="520.13">0.03</text><text class="a w" x="196.97" y="520.13">0.08</text><text class="a w" x="222.48" y="520.13">0.10</text><text class="a w" x="247.99" y="520.13">0.09</text><text class="a w" x="273.5" y="520.13">0.10</text><text class="a w" x="299.01" y="520.13">0.05</text><text class="a w" x="324.52" y="520.13">0.10</text><text class="a w" x="350.02" y="520.13">-0.05</text><text class="a w" x="375.53" y="520.13">0.13</text><text class="a w" x="401.04" y="520.13">-0.00</text><text class="a w" x="426.55" y="520.13">-0.00</text><text class="a w" x="452.06" y="520.13">-0.00</text><text class="a w" x="477.57" y="520.13">0.14</text><text class="a w" x="503.08" y="520.13">-0.14</text><text class="a d" x="528.58" y="520.13">1.00</text><text class="a w" x="554.09" y="520.13">-0.14</text><text class="a d" x="579.6" y="520.13">0.62</text><text class="a w" x="605.11" y="520.13">0.30</text><text class="a w" x="630.62" y="520.13">0.03</text></g>
<g><text class="a w" x="120.45" y="545.64">-0.03</text><text class="a w" x="145.96" y="545.64">-0.00</text><text class="a w" x="171.46" y="545.64">-0.03</text><text class="a w" x="196.97" y="545.64">0.00</text><text class="a w" x="222.48" y="545.64">-0.05</text><text class="a w" x="247.99" y="545.64">-0.05</text><text class="a w" x="273.5" y="545.64">-0.08</text><text class="a w" x="299.01" y="545.64">-0.01</text><text class="a w" x="324.52" y="545.64">-0.08</text><text class="a w" x="350.02" y="545.64">0.10</text><text class="a w" x="375.53" y="545.64">-0.02</text><text class="a w" x="401.04" y="545.64">0.05</text><text class="a w" x="426.55" y="545.64">0.05</text><text class="a w" x="452.06" y="545.64">0.05</text><text class="a w" x="477.57" y="545.64">0.18</text><text class="a d" x="503.08" y="545.64">0.68</text><text class="a w" x="528.58" y="545.64">-0.14</text><text class="a d" x="554.09" y="545.64">1.00</text><text class="a w" x="579.6" y="545.64">-0.12</text><text class="a d" x="605.11" y="545.64">0.75</text><text class="a w" x="630.62" y="545.64">-0.05</text></g>
<g><text class="a w" x="120.45" y="571.15">-0.04</text><text class="a w" x="145.96" y="571.15">-0.01</text><text class="a w" x="171.46" y="571.15">-0.04</text><text class="a w" x="196.97" y="571.15">0.00</text><text class="a w" x="222.48" y="571.15">-0.07</text><text class="a w" x="247.99" y="571.15">-0.06</text><text class="a w" x="273.5" y="571.15">-0.10</text><text class="a w" x="299.01" y="571.15">-0.01</text><text class="a w" x="324.52" y="571.15">-0.10</text><text class="a w" x="350.02" y="571.15">0.12</text><text class="a w" x="375.53" y="571.15">-0.03</text><text class="a w" x="401.04" y="571.15">0.06</text><text class="a w" x="426.55" y="571.15">0.06</text><text class="a w" x="452.06" y="571.15">0.06</text><text class="a w" x="477.57" y="571.15">0.10</text><text class="a w" x="503.08" y="571.15">-0.13</text><text class="a d" x="528.58" y="571.15">0.62</text><text class="a w" x="554.09" y="571.15">-0.12</text><text class="a d" x="579.6" y="571.15">1.00</text><text class="a w" x="605.11" y="571.15">0.56</text><text class="a w" x="630.62" y="571.15">-0.06</text></g>
<g><text class="a w" x="120.45" y="596.66">-0.05</text><text class="a w" x="145.96" y="596.66">-0.01</text><text class="a w" x="171.46" y="596.66">-0.05</text><text class="a w" x="196.97" y="596.66">0.00</text><text class="a w" x="222.48" y="596.66">-0.09</text><text class="a w" x="247.99" y="596.66">-0.08</text><text class="a w" x="273.5" y="596.66">-0.13</text><text class="a w" x="299.01" y="596.66">-0.01</text><text class="a w" x="324.52" y="596.66">-0.13</text><text class="a w" x="350.02" y="596.66">0.17</text><text class="a w" x="375.53" y="596.66">-0.04</text><text class="a w" x="401.04" y="596.66">0.08</text><text class="a w" x="426.55" y="596.66">0.08</text><text class="a w" x="452.06" y="596.66">0.08</text><text class="a w" x="477.57" y="596.66">0.21</text><text class="a w" x="503.08" y="596.66">0.48</text><text class="a w" x="528.58" y="596.66">0.30</text><text class="a d" x="554.09" y="596.66">0.75</text><text class="a w" x="579.6" y="596.66">0.56</text><text class="a d" x="605.11" y="596.66">1.00</text><text class="a w" x="630.62" y="596.66">-0.08</text></g>
<g><text class="a w" x="120.45" y="622.16">-0.03</text><text class="a w" x="145.96" y="622.16">0.17</text><text class="a d" x="171.46" y="622.16">0.79</text><text class="a w" x="196.97" y="622.16">-0.06</text><text class="a w" x="222.48" y="622.16">-0.04</text><text class="a w" x="247.99" y="622.16">-0.05</text><text class="a w" x="273.5" y="622.16">0.25</text><text class="a w" x="299.01" y="622.16">0.06</text><text class="a w" x="324.52" y="622.16">0.25</text><text class="a w" x="350.02" y="622.16">-0.00</text><text class="a w" x="375.53" y="622.16">0.03</text><text class="a w" x="401.04" y="622.16">-0.81</text><text class="a w" x="426.55" y="622.16">-0.82</text><text class="a w" x="452.06" y="622.16">-0.81</text><text class="a w" x="477.57" y="622.16">0.00</text><text class="a w" x="503.08" y="622.16">0.02</text><text class="a w" x="528.58" y="622.16">0.03</text><text class="a w" x="554.09" y="622.16">-0.05</text><text class="a w" x="579.6" y="622.16">-0.06</text><text class="a w" x="605.11" y="622.16">-0.08</text><text class="a d" x="630.62" y="622.16">1.00</text></g>
<g><path class="tk" d="M108 109.13h-3.9"/><text class="yl" x="100.28" y="111.99">dt</text><path class="tk" d="M108 134.64h-3.9"/><text class="yl" x="100.28" y="137.5">switch</text><path class="tk" d="M108 160.15h-3.9"/><text class="yl" x="100.28" y="163.01">src</text><path class="tk" d="M108 185.66h-3.9"/><text class="yl" x="100.28" y="188.52">dst</text><path class="tk" d="M108 211.16h-3.9"/><text class="yl" x="100.28" y="214.03">pktcount</text><path class="tk" d="M108 236.67h-3.9"/><text class="yl" x="100.28" y="239.54">bytecount</text><path class="tk" d="M108 262.18h-3.9"/><text class="yl" x="100.28" y="265.04">dur</text><path class="tk" d="M108 287.69h-3.9"/><text class="yl" x="100.28" y="290.55">dur_nsec</text><path class="tk" d="M108 313.2h-3.9"/><text class="yl" x="100.28" y="316.06">tot_dur</text><path class="tk" d="M108 338.71h-3.9"/><text class="yl" x="100.28" y="341.57">flows</text><path class="tk" d="M108 364.22h-3.9"/><text class="yl" x="100.28" y="367.08">packetins</text><path class="tk" d="M108 389.72h-3.9"/><text class="yl" x="100.28" y="392.59">pktperflow</text><path class="tk" d="M108 415.23h-3.9"/><text class="yl" x="100.28" y="418.1">byteperflow</text><path class="tk" d="M108 440.74h-3.9"/><text class="yl" x="100.28" y="443.6">pktrate</text><path class="tk" d="M108 466.25h-3.9"/><text class="yl" x="100.28" y="469.11">port_no</text><path class="tk" d="M108 491.76h-3.9"/><text class="yl" x="100.28" y="494.62">tx_bytes</text><path class="tk" d="M108 517.27h-3.9"/><text class="yl" x="100.28" y="520.13">rx_bytes</text><path class="tk" d="M108 542.78h-3.9"/><text class="yl" x="100.28" y="545.64">tx_kbps</text><path class="tk" d="M108 568.28h-3.9"/><text class="yl" x="100.28" y="571.15">rx_kbps</text><path class="tk" d="M108 593.79h-3.9"/><text class="yl" x="100.28" y="596.66">tot_kbps</text><path class="tk" d="M108 619.3h-3.9"/><text class="yl" x="100.28" y="622.16">label</text></g>
<g><path class="tk" d="M120.75 631.94v3.9"/><text class="xl" transform="translate(122.8,641.11) rotate(-90)">dt</text><path class="tk" d="M146.26 631.94v3.9"/><text class="xl" transform="translate(148.3,641.11) rotate(-90)">switch</text><path class="tk" d="M171.77 631.94v3.9"/><text class="xl" transform="translate(173.81,641.11) rotate(-90)">src</text><path class="tk" d="M197.28 631.94v3.9"/><text class="xl" transform="translate(199.32,641.11) rotate(-90)">dst</text><path class="tk" d="M222.79 631.94v3.9"/><text class="xl" transform="translate(224.83,641.11) rotate(-90)">pktcount</text><path class="tk" d="M248.3 631.94v3.9"/><text class="xl" transform="translate(250.34,641.11) rotate(-90)">bytecount</text><path class="tk" d="M273.81 631.94v3.9"/><text class="xl" transform="translate(275.85,641.11) rotate(-90)">dur</text><path class="tk" d="M299.31 631.94v3.9"/><text class="xl" transform="translate(301.36,641.11) rotate(-90)">dur_nsec</text><path class="tk" d="M324.82 631.94v3.9"/><text class="xl" transform="translate(326.86,641.11) rotate(-90)">tot_dur</text><path class="tk" d="M350.33 631.94v3.9"/><text class="xl" transform="translate(352.37,641.11) rotate(-90)">flows</text><path class="tk" d="M375.84 631.94v3.9"/><text class="xl" transform="translate(377.88,641.11) rotate(-90)">packetins</text><path class="tk" d="M401.35 631.94v3.9"/><text class="xl" transform="translate(403.39,641.11) rotate(-90)">pktperflow</text><path class="tk" d="M426.86 631.94v3.9"/><text class="xl" transform="translate(428.9,641.11) rotate(-90)">byteperflow</text><path class="tk" d="M452.37 631.94v3.9"/><text class="xl" transform="translate(454.41,641.11) rotate(-90)">pktrate</text><path class="tk" d="M477.87 631.94v3.9"/><text class="xl" transform="translate(479.92,641.11) rotate(-90)">port_no</text><path class="tk" d="M503.38 631.94v3.9"/><text class="xl" transform="translate(505.42,641.11) rotate(-90)">tx_bytes</text><path class="tk" d="M528.89 631.94v3.9"/><text class="xl" transform="translate(530.93,641.11) rotate(-90)">rx_bytes</text><path class="tk" d="M554.4 631.94v3.9"/><text class="xl" transform="translate(556.44,641.11) rotate(-90)">tx_kbps</text><path class="tk" d="M579.91 631.94v3.9"/><text class="xl" transform="translate(581.95,641.11) rotate(-90)">rx_kbps</text><path class="tk" d="M605.42 631.94v3.9"/><text class="xl" transform="translate(607.46,641.11) rotate(-90)">tot_kbps</text><path class="tk" d="M630.93 631.94v3.9"/><text class="xl" transform="translate(632.97,641.11) rotate(-90)">label</text></g>
<rect x="676.44" y="86.4" width="28.34" height="554.7" fill="url(#cb)"/>
<g><path class="tk" d="M704.78 620.57h3.9"/><text class="cl" x="711.88" y="624.41">−0.75</text><path class="tk" d="M704.78 544.32h3.9"/><text class="cl" x="711.88" y="548.16">−0.50</text><path class="tk" d="M704.78 468.07h3.9"/><text class="cl" x="711.88" y="471.91">−0.25</text><path class="tk" d="M704.78 391.82h3.9"/><text class="cl" x="711.88" y="395.66">0.00</text><path class="tk" d="M704.78 315.57h3.9"/><text class="cl" x="711.88" y="319.41">0.25</text><path class="tk" d="M704.78 239.32h3.9"/><text class="cl" x="711.88" y="243.16">0.50</text><path class="tk" d="M704.78 163.07h3.9"/><text class="cl" x="711.88" y="166.91">0.75</text><path class="tk" d="M704.78 86.82h3.9"/><text class="cl" x="711.88" y="90.66">1.00</text></g>
</g>
</svg>
</body>
</html>
